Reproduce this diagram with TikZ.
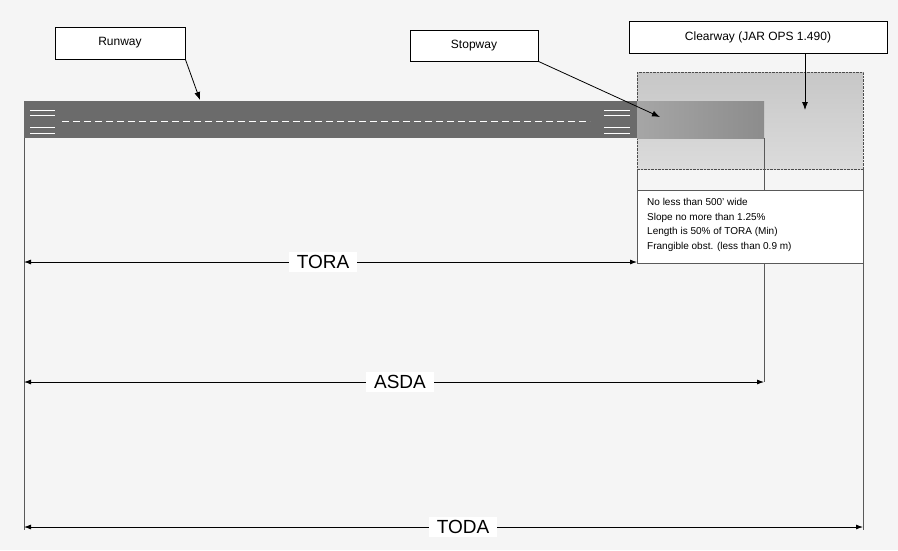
\documentclass[tikz,border=0pt]{standalone}
\usepackage{fontspec}
\setmainfont{Liberation Sans}
\usetikzlibrary{arrows.meta}
\begin{document}
\begin{tikzpicture}[x=1pt,y=-1pt,
  lbl/.style={draw=black,fill=white,line width=0.8pt,font=\fontsize{12}{12}\selectfont,inner sep=0pt},
  dim/.style={{Latex[length=7pt,width=5pt]}-{Latex[length=7pt,width=5pt]},line width=0.8pt},
  ptr/.style={-{Latex[length=8pt,width=6pt]},line width=0.8pt},
  big/.style={fill=white,font=\fontsize{19}{19}\selectfont,inner xsep=8pt},
  thr/.style={white,line width=1pt}]
\fill[white!96!black] (0,0) rectangle (898,550);
\useasboundingbox (0,0) rectangle (898,550);
% clearway
\shade[top color=black!22,bottom color=black!14,draw=black!70,densely dotted] (637,72) rectangle (863,169);
% runway
\fill[black!58] (24,101) rectangle (637,138);
\shade[left color=black!35,right color=black!45] (637,101) rectangle (764,138);
\foreach \y in {110,115,127,133}{\draw[thr] (30,\y)--(55,\y); \draw[thr] (604,\y)--(630,\y);}
\draw[white,line width=1pt,dash pattern=on 7pt off 4pt] (62,121)--(590,121);
% frame lines
\draw[black!65] (24,138)--(24,530) (764,138)--(764,382) (863,169)--(863,530) (637,169)--(637,263);
\draw[black!65,fill=white] (637,190) rectangle (863,263);
\node[anchor=north west,align=left,font=\fontsize{10}{14.6}\selectfont,inner sep=0pt] (txt) at (647,198)
 {No less than 500' wide\\Slope no more than 1.25\%\\Length is 50\% of TORA (Min)\\Frangible obst. (less than 0.9 m)};
% labels
\node[lbl,minimum width=130pt,minimum height=32pt] (rw) at (120,43) {Runway};
\node[lbl,minimum width=128pt,minimum height=31pt] (sw) at (474,45.5) {Stopway};
\node[lbl,minimum width=258pt,minimum height=32pt] (cw) at (758,37) {Clearway (JAR OPS 1.490)};
\coordinate (rwt) at (200,100);
\coordinate (swt) at (660,117);
\coordinate (cwt) at (805,110);
\draw[ptr] (rw.south east) -- (rwt);
\draw[ptr] (sw.south east) -- (swt);
\draw[ptr] (cw.south -| cwt) -- (cwt);
% dimensions
\coordinate (a0) at (24,262); \coordinate (a1) at (637,262);
\coordinate (b0) at (24,382); \coordinate (b1) at (764,382);
\coordinate (c0) at (24,527); \coordinate (c1) at (863,527);
\draw[dim] (a0)--(a1); \draw[dim] (b0)--(b1); \draw[dim] (c0)--(c1);
\node[big] (tora) at (323,262) {TORA};
\node[big] (asda) at (400,382) {ASDA};
\node[big] (toda) at (463,527) {TODA};
\end{tikzpicture}
\end{document}
